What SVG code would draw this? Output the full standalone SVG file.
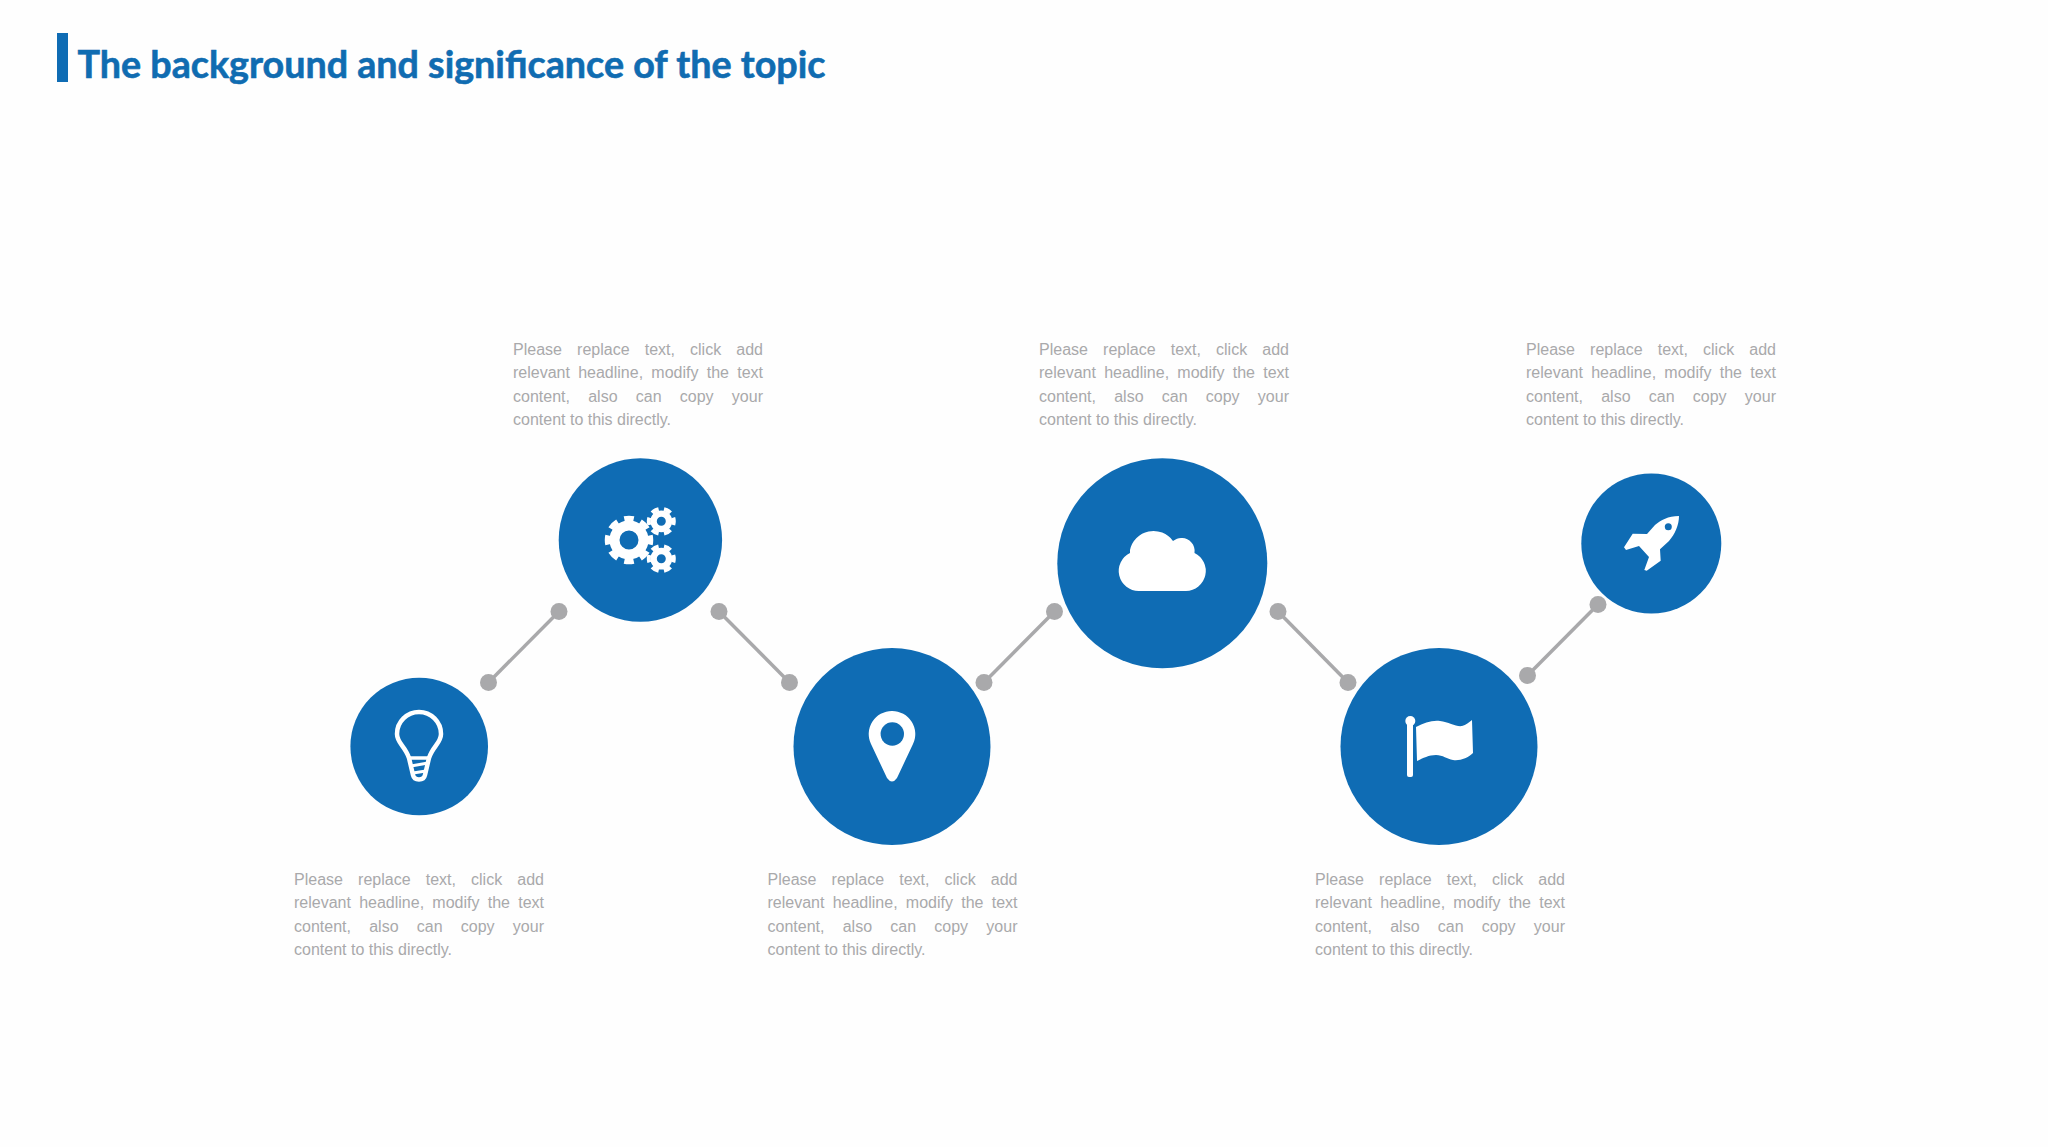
<svg xmlns="http://www.w3.org/2000/svg" width="2048" height="1147" viewBox="0 0 2048 1147">
<defs>
<style>
.disc{fill:#0f6cb4}
.ic{fill:#fff}
.line{stroke:#a9a9ab;stroke-width:3.5;fill:none}
.dot{fill:#a9a9ab}
.body{font-family:"Liberation Sans",Arial,sans-serif;font-size:16px;fill:#a9a9ab}
.l1{word-spacing:10.7px}.l2{word-spacing:3.8px}.l3{word-spacing:13.8px}
.title{font-family:Lato,"Open Sans",sans-serif;font-weight:700;font-size:38px;fill:#106cb1;stroke:#106cb1;stroke-width:.6}
.ring{fill:none;stroke:#fff}
</style>
<g id="para">
<text class="body"><tspan class="l1" x="0" y="0">Please replace text, click add</tspan><tspan class="l2" x="0" y="23.4">relevant headline, modify the text</tspan><tspan class="l3" x="0" y="46.6">content, also can copy your</tspan><tspan x="0" y="70.2">content to this directly.</tspan></text>
</g>
</defs>
<rect width="2048" height="1147" fill="#fefefe"/>
<g id="title">
<rect x="57" y="33" width="11" height="49" fill="#0f6cb4"/>
<text class="title" x="77.5" y="77.5" textLength="748" lengthAdjust="spacingAndGlyphs">The background and significance of the topic</text>
</g>
<g id="connectors">
<line class="line" x1="488.5" y1="682.5" x2="559" y2="611.5"/><circle class="dot" cx="488.5" cy="682.5" r="8.5"/><circle class="dot" cx="559" cy="611.5" r="8.5"/>
<line class="line" x1="719" y1="611.5" x2="789.5" y2="682.5"/><circle class="dot" cx="719" cy="611.5" r="8.5"/><circle class="dot" cx="789.5" cy="682.5" r="8.5"/>
<line class="line" x1="984" y1="682.5" x2="1054.5" y2="611.5"/><circle class="dot" cx="984" cy="682.5" r="8.5"/><circle class="dot" cx="1054.5" cy="611.5" r="8.5"/>
<line class="line" x1="1278" y1="611.5" x2="1348" y2="682.5"/><circle class="dot" cx="1278" cy="611.5" r="8.5"/><circle class="dot" cx="1348" cy="682.5" r="8.5"/>
<line class="line" x1="1527.5" y1="675.5" x2="1598" y2="604.5"/><circle class="dot" cx="1527.5" cy="675.5" r="8.5"/><circle class="dot" cx="1598" cy="604.5" r="8.5"/>
</g>
<g id="node-bulb">
<circle class="disc" cx="419.2" cy="746.5" r="68.8"/>
<g fill="none" stroke="#fff" stroke-width="4.5" stroke-linejoin="round">
<path d="M409 758C405 746 397 743 397 734A22 22 0 1 1 441 734C441 743 433 746 429 758L425 775Q424 779.5 419 779.5Q414 779.5 413 775Z"/>
<path d="M409 758H429" stroke-width="3.5"/>
<path d="M411 766L428 763M413 773L426 771" stroke-width="3"/>
</g>
<use href="#para" x="294" y="885"/>
</g>
<g id="node-gears">
<circle class="disc" cx="640.4" cy="540" r="81.7"/>
<circle class="ring" cx="629" cy="540" r="14.5" stroke-width="10"/>
<circle class="ring" cx="629" cy="540" r="21.5" stroke-width="5.5" pathLength="16" stroke-dasharray="1.15 .85" stroke-dashoffset=".575"/>
<circle class="ring" cx="661.3" cy="521.3" r="7.7" stroke-width="6.4"/>
<circle class="ring" cx="661.3" cy="521.3" r="12.5" stroke-width="4" pathLength="12" stroke-dasharray="1.15 .85" stroke-dashoffset=".575"/>
<circle class="ring" cx="661.3" cy="558.7" r="7.7" stroke-width="6.4"/>
<circle class="ring" cx="661.3" cy="558.7" r="12.5" stroke-width="4" pathLength="12" stroke-dasharray="1.15 .85" stroke-dashoffset=".575"/>
<use href="#para" x="513" y="355"/>
</g>
<g id="node-pin">
<circle class="disc" cx="892" cy="746.5" r="98.5"/>
<path class="ic" d="M892 711A23 23 0 0 1 913 744L897 778Q892 785 887 778L871 744A23 23 0 0 1 892 711Z"/>
<circle class="disc" cx="892.3" cy="734" r="11.7"/>
<use href="#para" x="767.5" y="885"/>
</g>
<g id="node-cloud">
<circle class="disc" cx="1162.3" cy="563.3" r="105"/>
<path class="ic" d="M1139 591H1186A20 20 0 0 0 1194.5 553C1196 544 1188 537 1181 538C1178 538 1176 539 1173 541A24 24 0 0 0 1130 550V553A20 20 0 0 0 1139 591Z"/>
<use href="#para" x="1039" y="355"/>
</g>
<g id="node-flag">
<circle class="disc" cx="1439" cy="746.5" r="98.5"/>
<rect class="ic" x="1407" y="722" width="6" height="55" rx="2"/>
<circle class="ic" cx="1410.3" cy="721" r="5"/>
<path class="ic" d="M1416 727C1424 723 1432 720 1440 721C1449 722 1456 727 1462 726C1466 725 1469 722 1472 720L1473 753C1468 758 1460 761 1453 760C1447 759 1443 755 1436 755C1429 755 1423 758 1417 761Z"/>
<use href="#para" x="1315" y="885"/>
</g>
<g id="node-rocket">
<circle class="disc" cx="1651.3" cy="543.5" r="70"/>
<path class="ic" d="M1679 516C1668 516 1661 520 1655 525L1647 534L1632.7 533.7L1624 547.3L1626 550L1639 546L1649 557L1644.3 570L1646.7 570.7L1660.7 560.7L1660 549.3L1669 541C1675 534 1679 525 1679 516Z"/>
<circle class="disc" cx="1668.3" cy="526.7" r="3.5"/>
<use href="#para" x="1526" y="355"/>
</g>
</svg>
